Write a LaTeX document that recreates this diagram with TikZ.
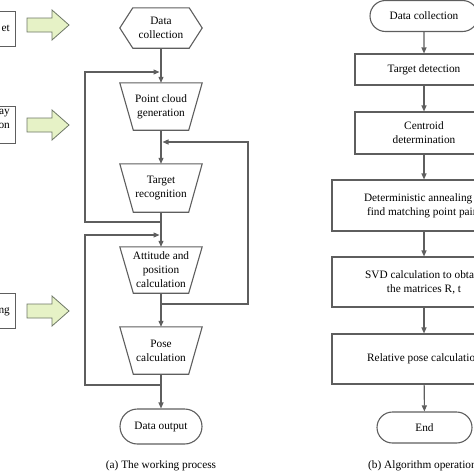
\documentclass[tikz,border=0pt]{standalone}
\usepackage{fontspec}
\setmainfont{Liberation Serif}
\usetikzlibrary{shapes.misc,arrows.meta}
\definecolor{lc}{HTML}{5E5E5E}
\definecolor{agreen}{HTML}{E6F2C6}
\definecolor{aedge}{HTML}{6E7866}
\newcommand\trapz[1]{\draw[ln] (#1.north west) -- (#1.north east) -- ([xshift=-13.5pt]#1.south east) -- ([xshift=13.5pt]#1.south west) -- cycle;}
\newcommand\hexa[1]{\draw[ln] (#1.west) -- ([xshift=13pt]#1.north west) -- ([xshift=-13pt]#1.north east) -- (#1.east) -- ([xshift=-13pt]#1.south east) -- ([xshift=13pt]#1.south west) -- cycle;}
\newcommand\bigarrow[1]{\draw[fill=agreen, draw=aedge, line width=0.8pt, line join=miter] (27,#1-7) -- (52,#1-7) -- (52,#1-15) -- (69,#1) -- (52,#1+15) -- (52,#1+7) -- (27,#1+7) -- cycle;}
\begin{document}
\begin{tikzpicture}[x=1pt,y=-1pt, font=\fontsize{11.3}{14}\selectfont,
  ln/.style={draw=lc, line width=1.1pt},
  conn/.style={ln, -{Triangle[length=6pt,width=5pt]}},
  tz/.style={minimum width=82pt, minimum height=#1, inner sep=0pt, align=center},
  stad/.style={rounded rectangle, draw=lc, line width=1.1pt, inner sep=0pt, align=center},
  rbox/.style={rectangle, draw=lc, line width=1.1pt, inner sep=0pt, align=center},
  lbox/.style={rectangle, draw=lc, line width=0.8pt, fill=white}]
\useasboundingbox (0,0) rectangle (474,474);
\begin{scope}
\clip (0,0) rectangle (474,474);
% left cut boxes
\draw[lbox] (-80,11) rectangle (15,46);
\node[anchor=east, inner sep=0pt] (l1) at (10,28) {et};
\draw[lbox] (-80,106) rectangle (15,143);
\node[anchor=east, inner sep=0pt, align=right] (l2) at (10,119) {ay\\on};
\draw[lbox] (-80,293) rectangle (15,328);
\node[anchor=east, inner sep=0pt] (l3) at (10,312) {ng};
\bigarrow{25}
\bigarrow{125}
\bigarrow{311}
% middle flowchart
\node[tz=40pt] (dc) at (161,28) {Data\\collection};
\hexa{dc}
\node[tz=47pt] (pc) at (161,106.5) {Point cloud\\generation};
\trapz{pc}
\node[tz=48pt] (tr) at (161,188) {Target\\recognition};
\trapz{tr}
\node[tz=46pt] (ap) at (161,270) {Attitude and\\position\\calculation};
\trapz{ap}
\node[tz=47pt] (pose) at (161,350.5) {Pose\\calculation};
\trapz{pose}
\node[stad, minimum width=82pt, minimum height=35pt] (out) at (161,426.5) {Data output};
\draw[conn] (dc) -- (pc);
\draw[conn] (pc) -- (tr);
\draw[conn] (tr) -- (ap);
\draw[conn] (ap) -- (pose);
\draw[conn] (pose) -- (out);
\coordinate (j1) at (161,222);
\coordinate (t1) at (159.5,72);
\coordinate (j2) at (161,304);
\coordinate (t2) at (162.5,142);
\coordinate (j3) at (161,385);
\coordinate (t3) at (159.5,235);
\draw[conn] (j1) -- (85,222) -- (85,72) -- (t1);
\draw[conn] (j2) -- (248,304) -- (248,142) -- (t2);
\draw[conn] (j3) -- (85,385) -- (85,235) -- (t3);
\node (capa) at (161,466) {(a) The working process};
% right flowchart
\node[stad, minimum width=108pt, minimum height=31pt] (rdc) at (424,16) {Data collection};
\node[rbox, minimum width=138pt, minimum height=31pt] (td) at (424,69.5) {Target detection};
\node[rbox, minimum width=138pt, minimum height=42pt] (cd) at (424,133) {Centroid\\determination};
\node[rbox, minimum width=184pt, minimum height=51pt] (da) at (424,205.5) {Deterministic annealing to\\find matching point pairs};
\node[rbox, minimum width=184pt, minimum height=50pt] (svd) at (424,282) {SVD calculation to obtain\\the matrices R, t};
\node[rbox, minimum width=184pt, minimum height=50pt] (rp) at (424,359) {Relative pose calculation};
\node[stad, minimum width=95pt, minimum height=31pt] (end) at (424.5,427.5) {End};
\draw[conn] (rdc) -- (td);
\draw[conn] (td) -- (cd);
\draw[conn] (cd) -- (da);
\draw[conn] (da) -- (svd);
\draw[conn] (svd) -- (rp);
\draw[conn] (rp) -- (end);
\node[anchor=west, inner sep=0pt] (capb) at (368,466) {(b) Algorithm operation};
\end{scope}
\end{tikzpicture}
\end{document}
